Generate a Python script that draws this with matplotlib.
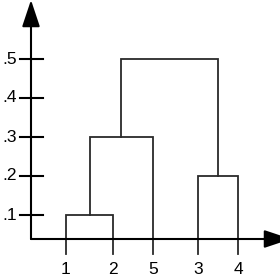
"""Dendrogram of five points with hand-drawn style arrow axes."""

import matplotlib

matplotlib.use("Agg")
import matplotlib.pyplot as plt
from matplotlib.patches import FancyArrowPatch

# leaf order along the x axis
leaf_labels = ["1", "2", "5", "3", "4"]
# merges: (child_a, child_b) using scipy-like node ids (0..4 leaves, 5.. merged)
merge_pairs = [(0, 1), (3, 4), (5, 2), (7, 6)]
merge_heights = [0.1, 0.2, 0.3, 0.5]
ytick_values = [0.1, 0.2, 0.3, 0.4, 0.5]
ytick_labels = [".1", ".2", ".3", ".4", ".5"]

LINE = "#2a2a2a"
plt.rcParams["font.family"] = ["Liberation Sans", "DejaVu Sans"]

fig = plt.figure(figsize=(2.8, 2.8), dpi=100, facecolor="white")
ax = fig.add_axes([0, 0, 1, 1])
ax.axis("off")
# pixel-matched frame: x in pixels, y with 390 px per unit
ax.set_xlim(0, 280)
ax.set_ylim(-26 / 390, 254 / 390)

# leaf slots are drawn slightly unevenly, as in the hand-made original
leaf_px = [66, 113, 153, 198, 238]

# node positions
xs = {i: leaf_px[i] for i in range(len(leaf_labels))}
hs = {i: 0.0 for i in range(len(leaf_labels))}
for k, ((a, b), h) in enumerate(zip(merge_pairs, merge_heights)):
    node = len(leaf_labels) + k
    ax.plot([xs[a], xs[a], xs[b], xs[b]], [hs[a], h, h, hs[b]],
            color=LINE, lw=1.3, solid_joinstyle="miter", zorder=2)
    xs[node] = (xs[a] + xs[b]) / 2
    hs[node] = h

for i, lab in enumerate(leaf_labels):
    ax.text(xs[i], -0.041, lab, ha="center", va="center", fontsize=12.5)

# axes with arrows
x0 = 31                   # y-axis position
y0 = 15 / 390             # x-axis position (pixel 239)
ax.add_patch(FancyArrowPatch(
    (x0, y0), (x0, 254 / 390), arrowstyle="-|>,head_length=1.5,head_width=0.5",
    mutation_scale=11, lw=1.5, color="black", shrinkA=0, shrinkB=0, zorder=3))
ax.add_patch(FancyArrowPatch(
    (x0, y0), (291, y0), arrowstyle="-|>,head_length=1.5,head_width=0.5",
    mutation_scale=11, lw=1.5, color="black", shrinkA=0, shrinkB=0, zorder=3))

for v, lab in zip(ytick_values, ytick_labels):
    ax.plot([x0 - 11.5, x0 + 11.5], [v, v], color="black", lw=1.5, zorder=3)
    ax.text(x0 - 14, v, lab, ha="right", va="center", fontsize=12.5)

fig.savefig("out.png", dpi=100, facecolor="white")
